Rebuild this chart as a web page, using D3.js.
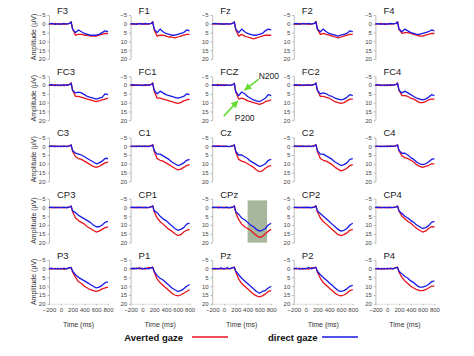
<!DOCTYPE html>
<html><head><meta charset="utf-8">
<script src="https://cdn.jsdelivr.net/npm/d3@7"></script>
<style>body{margin:0;background:#fff}svg{display:block}</style>
</head><body>
<svg id="c" width="474" height="356"></svg>
<script>
const times = [-200,-150,-100,-50,0,50,100,150,175,200,250,300,350,400,450,500,550,600,650,700,750,800];
const channels = ["F3","F1","Fz","F2","F4","FC3","FC1","FCZ","FC2","FC4","C3","C1","Cz","C2","C4","CP3","CP1","CPz","CP2","CP4","P3","P1","Pz","P2","P4"];
const yTicks = [-5,0,5,10,15,20];
const xTicks = [-200,0,200,400,600,800];
const seriesNames = ["Averted gaze","direct gaze"];
const avertedGaze = [
 [0,0.2,-0.2,0.3,-0.1,0.3,0,-0.3,-1.2,3,6.5,6,6,6.5,6.5,7,7,7,6.5,6,5.5,5.5],
 [0,0.3,-0.1,0.2,-0.2,0.3,0.1,-0.3,-1.2,3.5,7,6.5,6.5,7,7.5,7.5,8,7.5,7,6.5,6,6],
 [0,0.2,-0.3,0.3,-0.1,0.2,0,-0.4,-1.1,3.5,7,6,7,7.5,8,8.5,8,7.5,7,6.5,6.5,6.5],
 [0,0.3,-0.2,0.2,-0.2,0.3,0,-0.3,-1.3,3,6,5.5,6,6.5,7,7.5,8,7.5,7,6.5,6,6],
 [0,0.2,-0.2,0.4,-0.1,0.2,0.1,-0.3,-1.2,3,5.5,5,5,5.5,6,6.5,7,7,6.5,6,5.5,5.5],
 [0,0.2,-0.2,0.3,-0.1,0.3,0,-0.3,-1.2,3,6.5,6.5,7,7.5,8,8.5,9,9.5,9,8.5,8,7.5],
 [0,0.3,-0.2,0.2,-0.1,0.3,0,-0.3,-1.1,3.5,7.5,7.5,8,8.5,9,9.5,10,10.5,10,9,8.5,8],
 [0,0.2,-0.3,0.3,-0.2,0.2,0.1,-0.2,-1.0,4,8,7.5,8,9,9.5,10,10.5,11,10.5,9.5,9,8.5],
 [0,0.3,-0.2,0.3,-0.1,0.2,0,-0.3,-1.2,3,6.5,6.5,7,7.5,8.5,9.5,10,10.5,10,9,8,8],
 [0,0.2,-0.1,0.3,-0.2,0.3,0,-0.4,-1.1,3,6,6,6.5,7.5,8,9,10,10,9.5,8.5,8,8],
 [0,0.2,-0.2,0.3,-0.1,0.2,0,-0.2,-0.8,3,6,7,7.5,8.5,9.5,10.5,11.5,12,11.5,10.5,9.5,9],
 [0,0.3,-0.2,0.2,-0.1,0.3,0,-0.3,-0.9,3,7,8,8.5,9.5,10.5,11.5,12.5,13.5,13,12,11,10.5],
 [0,0.2,-0.3,0.3,-0.2,0.2,0.1,-0.2,-0.8,3.5,7.5,8.5,9,10,11,12,13.5,14.5,14,12.5,11.5,11],
 [0,0.3,-0.2,0.3,-0.1,0.2,0,-0.3,-0.9,3,7,8,8.5,9.5,10.5,12,13,14,13.5,12.5,11,10.5],
 [0,0.2,-0.1,0.3,-0.2,0.3,0,-0.3,-0.8,2.5,5.5,6.5,7,8,9,10.5,11.5,12,11.5,11,10,10],
 [0,0.2,-0.2,0.3,-0.1,0.3,0,-0.3,-0.8,2.5,6,7.5,8.5,9.5,11,12,13,14,13.5,12.5,11.5,11],
 [0,0.3,-0.2,0.2,-0.1,0.3,0,-0.4,-0.9,2.5,6,8,9.5,11,12.5,13.5,15,16,15.5,14,13,12.5],
 [0,0.2,-0.3,0.3,-0.2,0.2,0.1,-0.3,-0.8,3,7,9.5,11,12,13,14.5,16,17,16.5,15,13.5,12.5],
 [0,0.3,-0.2,0.3,-0.1,0.2,0,-0.3,-0.9,2.5,6,8,9.5,11,12.5,14,15.5,16,15.5,14.5,13,12.5],
 [0,0.2,-0.1,0.3,-0.2,0.3,0,-0.3,-0.8,2,5,6.5,8,9,10.5,12,13,14,13.5,12,11,11],
 [0,0.3,-0.2,0.3,-0.1,0.4,0,-0.4,-0.7,2,5,7.5,8.5,10,11,12,12.5,13,12.5,11.5,11,10.5],
 [0,0.2,-0.3,0.2,-0.2,0.3,-0.6,-0.5,-0.8,2,6,8,9.5,11,12.5,14,15,15.5,15,14,13,12],
 [0,0.3,-0.2,0.3,-0.1,0.2,0,-0.6,-0.9,2,6,8.5,10,11.5,13,14.5,15.5,16,15.5,14.5,13,12.5],
 [0,0.2,-0.2,0.3,-0.1,0.3,-0.5,-0.4,-0.8,2,5.5,8,9.5,11,12.5,14,15,15.5,15,14,12.5,12],
 [0,0.3,-0.1,0.3,-0.2,0.2,0,-0.4,-0.8,2,5,7,8.5,10,11,12,12.5,12.5,12,11,10,10]
];
const directGaze = [
 [0,-0.2,0.3,-0.1,0.3,-0.2,0.2,-0.2,-1.0,3,5,3.5,4.5,5.5,6,6.5,6.5,6.5,6,5,4,4.5],
 [0,-0.1,0.3,-0.2,0.3,-0.2,0.2,-0.2,-1.0,3,5,3,4.5,5.5,6,6.5,6.5,6,5.5,5,3.5,4],
 [0,-0.2,0.2,-0.1,0.3,-0.1,0.2,-0.3,-1.0,3,5,3,4.5,5.5,6,6.5,6.5,6,5.5,4,3,3.5],
 [0,-0.2,0.3,-0.2,0.2,-0.2,0.2,-0.2,-1.1,3,4.5,3,4.5,5.5,6,6.5,7,6.5,6,5.5,4,4.5],
 [0,-0.1,0.3,-0.1,0.3,-0.2,0.1,-0.2,-1.0,3,4.5,3,4,5,5.5,6,6,5.5,5,4.5,3.5,4],
 [0,-0.2,0.3,-0.1,0.3,-0.2,0.2,-0.2,-1.0,3,4.5,4,4.5,5.5,6.5,7,7.5,8,7.5,7,5,5.5],
 [0,-0.2,0.2,-0.1,0.3,-0.2,0.2,-0.2,-1.0,3,5,3.5,4.5,5.5,6,6.5,7,7.5,7,6.5,5,5.5],
 [0,-0.1,0.3,-0.2,0.3,-0.1,0.2,-0.2,-0.9,4,6,4,5,6.5,7.5,8.5,9,9.5,8.5,7.5,5.5,6],
 [0,-0.2,0.3,-0.1,0.2,-0.2,0.2,-0.3,-1.0,3,5,4.5,5,6,6.5,7.5,8,8.5,8,7,5.5,6],
 [0,-0.2,0.3,-0.1,0.3,-0.2,0.1,-0.2,-1.0,3,4.5,3.5,4.5,5.5,6.5,7.5,8,8.5,8,7,5.5,6],
 [0,-0.2,0.3,-0.1,0.3,-0.2,0.2,-0.2,-0.7,2.5,4,4.5,5,6,7,8,9,10,9.5,8.5,7,7],
 [0,-0.1,0.3,-0.2,0.3,-0.2,0.2,-0.2,-0.7,2.5,4.5,4.5,5.5,6.5,7.5,9,10,11,10.5,9.5,8,7.5],
 [0,-0.2,0.2,-0.1,0.3,-0.1,0.2,-0.3,-0.7,3,5,5,6,7,8.5,9.5,10.5,11.5,11,10,8,7.5],
 [0,-0.2,0.3,-0.2,0.2,-0.2,0.2,-0.2,-0.8,2.5,4.5,4.5,5.5,6.5,7.5,9,10,11,10.5,9.5,7.5,7],
 [0,-0.1,0.3,-0.1,0.3,-0.2,0.1,-0.2,-0.7,2.5,4,4,5,6.5,7.5,9,10,10.5,10,9,7.5,7],
 [0,-0.2,0.3,-0.1,0.3,-0.2,0.2,-0.2,-0.7,2,3,4.5,5.5,6.5,7.5,8.5,10,11,11,10,8.5,8],
 [0,-0.2,0.2,-0.1,0.3,-0.2,0.2,-0.3,-0.8,2,3,5,6.5,7.5,9,10.5,12,13,12.5,11.5,9.5,9],
 [0,-0.1,0.3,-0.2,0.3,-0.1,0.2,-0.2,-0.7,2.5,4,6,7,8.5,10,11,12.5,13.5,13,12,10,9],
 [0,-0.2,0.3,-0.1,0.2,-0.2,0.2,-0.2,-0.8,2,3.5,5,6.5,8,9.5,11,12.5,13.5,13,12,10,9],
 [0,-0.1,0.3,-0.1,0.3,-0.2,0.1,-0.2,-0.7,2,3.5,5,6,7.5,8.5,10,11,12,11.5,10.5,8.5,8],
 [0,-0.2,0.3,-0.1,0.3,-0.2,0.2,-0.5,-0.6,1.5,3.5,5,6,7,8,9,10,11,10.5,9.5,8,7.5],
 [0,-0.2,0.2,-0.5,0.3,-0.3,0.2,-0.4,-0.7,1.5,4,5.5,6.5,8,9.5,11,12,13,12.5,11.5,10,9],
 [0,-0.1,0.3,-0.4,0.3,-0.5,0.2,-0.6,-0.7,1.5,3.5,5.5,7,8.5,10,11.5,13,14,13,12.5,11,10],
 [0,-0.2,0.3,-0.1,0.2,-0.5,0.2,-0.6,-0.7,1.5,3.5,5,6.5,8,9.5,11,12.5,13,12.5,11.5,10,9.5],
 [0,-0.1,0.3,-0.1,0.3,-0.2,0.1,-0.5,-0.7,1.5,3,4.5,5.5,7,8,9.5,10.5,10.5,10,9,7.5,7]
];
const highlightWindow = [400, 730];
const highlightRange = [-4, 20];
const annotations = [
  {label:"N200", channel:"FCZ", t:300, series:1},
  {label:"P200", channel:"FCZ", t:250, series:0}
];

const svg = d3.select("#c");
const colors = ["#e8141e","#1a1ae6"];
const nCols = 5;
const panelW = 59, panelH = 44;
const colX = c => 49 + 81.6*c;
const rowY = r => 15 + 61.2*r;
const font = "Liberation Sans, Arial, sans-serif";

const defs = svg.append("defs");
defs.append("marker").attr("id","ah").attr("viewBox","0 0 10 10").attr("refX",9).attr("refY",5)
  .attr("markerWidth",4.5).attr("markerHeight",4.5).attr("orient","auto")
  .append("path").attr("d","M0,0L10,5L0,10z").attr("fill","#66dd33");

channels.forEach((ch, i) => {
  const c = i % nCols, r = Math.floor(i / nCols);
  const g = svg.append("g").attr("transform", `translate(${colX(c)},${rowY(r)})`);
  const x = d3.scaleLinear().domain([-200,800]).range([0,panelW]);
  const y = d3.scaleLinear().domain([-5,20]).range([0,panelH]);

  if (ch === "CPz") {
    g.append("rect").attr("x", x(highlightWindow[0])).attr("width", x(highlightWindow[1]) - x(highlightWindow[0]))
      .attr("y", y(highlightRange[0])).attr("height", y(highlightRange[1]) - y(highlightRange[0]))
      .attr("fill","#a7b79e");
  }

  const ya = g.append("g").call(d3.axisLeft(y).tickValues(yTicks).tickSize(1.5).tickSizeOuter(0).tickPadding(2));
  ya.select(".domain").attr("stroke","#aaa").attr("stroke-width",0.8);
  ya.selectAll(".tick line").attr("stroke","#aaa");
  ya.selectAll("text").attr("font-size",6).attr("font-family",font).attr("fill","#444");

  if (r === 4) {
    const xa = g.append("g").attr("transform",`translate(0,${panelH})`)
      .call(d3.axisBottom(x).tickValues(xTicks).tickSize(1.5).tickSizeOuter(0).tickPadding(2));
    xa.select(".domain").attr("stroke","#ccc").attr("stroke-width",0.6);
    xa.selectAll(".tick line").attr("stroke","#bbb");
    xa.selectAll("text").attr("font-size",6).attr("font-family",font).attr("fill","#444");
    g.append("text").attr("x", panelW/2).attr("y", panelH + 23).attr("text-anchor","middle")
      .attr("font-size",7).attr("font-family",font).attr("fill","#333").text("Time (ms)");
  }
  if (c === 0) {
    g.append("text").attr("transform",`translate(-13,${panelH/2}) rotate(-90)`).attr("text-anchor","middle")
      .attr("font-size",7).attr("font-family",font).attr("fill","#333").text("Amplitude (\u00b5V)");
  }
  g.append("text").attr("x", 8).attr("y", -1).attr("font-size",9.5).attr("font-family",font).attr("fill","#222").text(ch);

  const line = d3.line().x((d,k) => x(times[k])).y(d => y(d));
  [avertedGaze[i], directGaze[i]].forEach((vals, s) => {
    g.append("path").datum(vals).attr("d", line).attr("fill","none")
      .attr("stroke", colors[s]).attr("stroke-width",1.3).attr("stroke-linejoin","round");
  });

  annotations.filter(a => a.channel === ch).forEach(a => {
    const vals = a.series === 0 ? avertedGaze[i] : directGaze[i];
    const k = times.indexOf(a.t);
    const tx = x(a.t), ty = y(vals[k]);
    if (a.label === "N200") {
      g.append("line").attr("x1", tx+17).attr("y1", ty-13).attr("x2", tx+3).attr("y2", ty-2)
        .attr("stroke","#66dd33").attr("stroke-width",1.6).attr("marker-end","url(#ah)");
      g.append("text").attr("x", tx+17).attr("y", ty-13).attr("font-size",8.5).attr("font-family",font).attr("fill","#222").text(a.label);
    } else {
      g.append("line").attr("x1", tx-15).attr("y1", ty+17).attr("x2", tx-1).attr("y2", ty+2)
        .attr("stroke","#66dd33").attr("stroke-width",1.6).attr("marker-end","url(#ah)");
      g.append("text").attr("x", tx-4).attr("y", ty+22).attr("font-size",8.5).attr("font-family",font).attr("fill","#222").text(a.label);
    }
  });
});

// legend
const leg = svg.append("g").attr("font-family",font).attr("font-weight","bold").attr("font-size",9.5);
const legX = [183, 268];
seriesNames.forEach((n, s) => {
  const t = leg.append("text").attr("y", 340.5).attr("fill","#111").text(n);
  if (s === 0) t.attr("x", legX[0]).attr("text-anchor","end");
  else t.attr("x", legX[1]);
  const lx = s === 0 ? 192 : 322;
  leg.append("line").attr("x1", lx).attr("x2", lx + 36).attr("y1", 337).attr("y2", 337)
    .attr("stroke", colors[s]).attr("stroke-width",1.3);
});
</script>
</body></html>
